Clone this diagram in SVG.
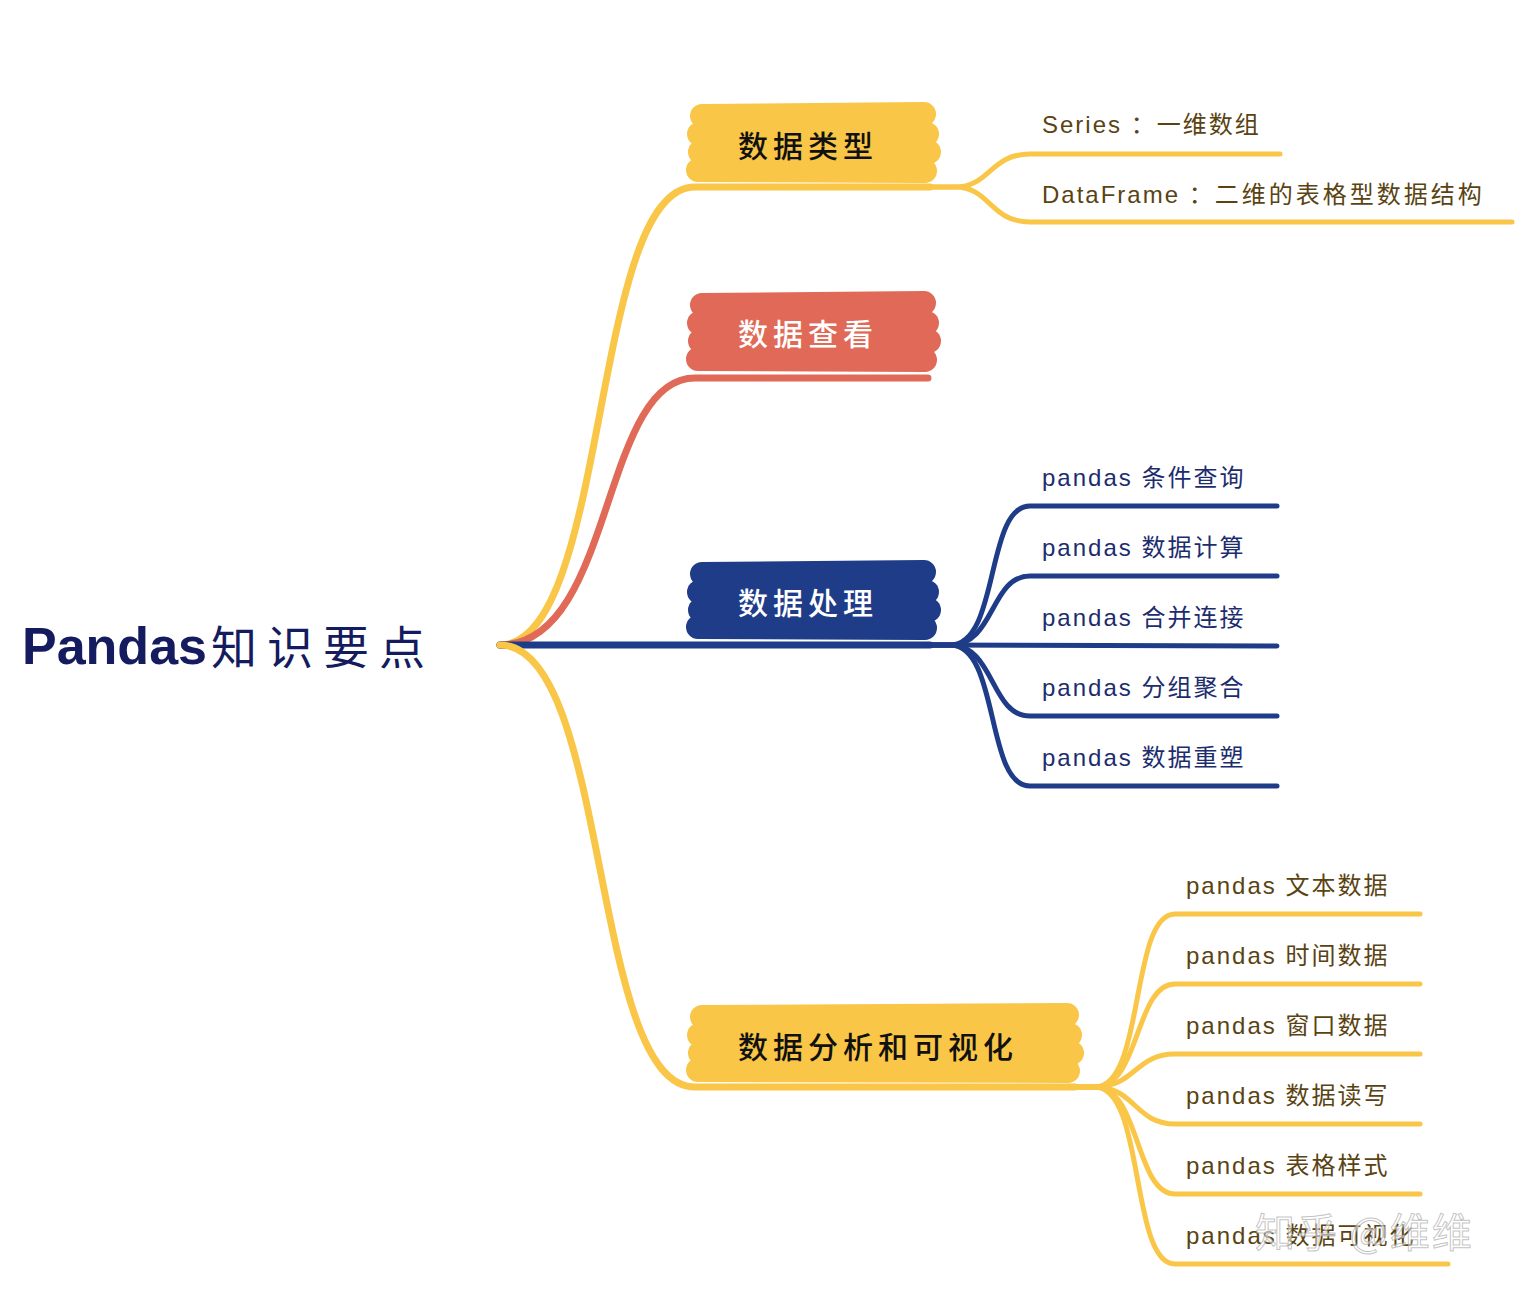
<svg xmlns="http://www.w3.org/2000/svg" width="1530" height="1294" viewBox="0 0 1530 1294">
<style>
.y{stroke:#F9C647;fill:none;stroke-linecap:round;stroke-linejoin:round}
.r{stroke:#E06A57;fill:none;stroke-linecap:round}
.b{stroke:#1F3C88;fill:none;stroke-linecap:round}
.main{stroke-width:7}
.sub{stroke-width:5}
.bx{stroke-width:24;stroke-linecap:round;fill:none}
.bt{font-family:"Noto Sans CJK SC","Noto Sans",sans-serif;font-size:30px;font-weight:500;letter-spacing:5px}
.lt{font-family:"Liberation Sans","Noto Sans CJK SC",sans-serif;font-size:24px;letter-spacing:2px}
.ly{fill:#5A4312}
.lb{fill:#1C2D6E}
</style>
<rect width="1530" height="1294" fill="#ffffff"/>
<g id="connectors">
  <path class="y main" d="M500,645 C610,645 590,187 695,187 L930,187"/>
  <path class="r main" d="M500,645 C615,645 600,378 695,378 L928,378"/>
  <path class="b main" d="M500,645 L930,645"/>
  <path class="y main" d="M500,645 C610,645 590,1087 695,1087 L1075,1087"/>
  <path class="y sub" d="M928,187 L955,187 C990,187 990,154 1030,154 L1280,154"/>
  <path class="y sub" d="M928,187 L955,187 C990,187 990,222 1030,222 L1512,222"/>
  <path class="b sub" d="M928,645 L950,645 C1000,645 985,506 1030,506 L1277,506"/>
  <path class="b sub" d="M928,645 L950,645 C995,645 990,576 1030,576 L1277,576"/>
  <path class="b sub" d="M928,645 L1277,646"/>
  <path class="b sub" d="M928,645 L950,645 C995,645 990,716 1030,716 L1277,716"/>
  <path class="b sub" d="M928,645 L950,645 C1000,645 985,786 1030,786 L1277,786"/>
  <path class="y sub" d="M1073,1087 L1095,1087 C1145,1087 1130,914 1175,914 L1420,914"/>
  <path class="y sub" d="M1073,1087 L1095,1087 C1140,1087 1135,984 1175,984 L1420,984"/>
  <path class="y sub" d="M1073,1087 L1095,1087 C1135,1087 1135,1054 1175,1054 L1420,1054"/>
  <path class="y sub" d="M1073,1087 L1095,1087 C1135,1087 1135,1124 1175,1124 L1420,1124"/>
  <path class="y sub" d="M1073,1087 L1095,1087 C1140,1087 1135,1194 1175,1194 L1420,1194"/>
  <path class="y sub" d="M1073,1087 L1095,1087 C1145,1087 1130,1264 1175,1264 L1448,1264"/>
</g>
<g id="root">
  <text x="22" y="664" font-family="'Liberation Sans','Noto Sans CJK SC',sans-serif" fill="#141B5E"><tspan font-size="52" font-weight="bold">Pandas</tspan><tspan font-family="'Noto Sans CJK SC',sans-serif" font-size="46" letter-spacing="10" dx="4">知识要点</tspan></text>
</g>
<g id="node-types">
  <g stroke="#F9C647" class="bx">
    <line x1="702" y1="116" x2="924" y2="114"/>
    <line x1="699" y1="134" x2="927" y2="134"/>
    <line x1="700" y1="152" x2="929" y2="152"/>
    <line x1="698" y1="170" x2="925" y2="171"/>
  </g>
  <text class="bt" x="738" y="157" fill="#111111">数据类型</text>
</g>
<g id="node-view">
  <g stroke="#E06A57" class="bx">
    <line x1="702" y1="305" x2="924" y2="303"/>
    <line x1="699" y1="323" x2="927" y2="323"/>
    <line x1="700" y1="341" x2="929" y2="341"/>
    <line x1="698" y1="359" x2="925" y2="360"/>
  </g>
  <text class="bt" x="738" y="345" fill="#ffffff">数据查看</text>
</g>
<g id="node-process">
  <g stroke="#1F3C88" class="bx">
    <line x1="702" y1="574" x2="924" y2="572"/>
    <line x1="699" y1="592" x2="927" y2="592"/>
    <line x1="700" y1="610" x2="929" y2="610"/>
    <line x1="698" y1="627" x2="925" y2="628"/>
  </g>
  <text class="bt" x="738" y="614" fill="#ffffff">数据处理</text>
</g>
<g id="node-analysis">
  <g stroke="#F9C647" class="bx">
    <line x1="702" y1="1017" x2="1067" y2="1015"/>
    <line x1="699" y1="1035" x2="1070" y2="1035"/>
    <line x1="700" y1="1053" x2="1072" y2="1053"/>
    <line x1="698" y1="1070" x2="1068" y2="1071"/>
  </g>
  <text class="bt" x="738" y="1058" fill="#111111">数据分析和可视化</text>
</g>
<g id="leaf-series"><text class="lt ly" x="1042" y="133">Series ：一维数组</text></g>
<g id="leaf-dataframe"><text class="lt ly" x="1042" y="203">DataFrame ：<tspan letter-spacing="3">二维的表格型数据结构</tspan></text></g>
<g id="leaf-p1"><text class="lt lb" x="1042" y="486">pandas 条件查询</text></g>
<g id="leaf-p2"><text class="lt lb" x="1042" y="556">pandas 数据计算</text></g>
<g id="leaf-p3"><text class="lt lb" x="1042" y="626">pandas 合并连接</text></g>
<g id="leaf-p4"><text class="lt lb" x="1042" y="696">pandas 分组聚合</text></g>
<g id="leaf-p5"><text class="lt lb" x="1042" y="766">pandas 数据重塑</text></g>
<g id="leaf-a1"><text class="lt ly" x="1186" y="894">pandas 文本数据</text></g>
<g id="leaf-a2"><text class="lt ly" x="1186" y="964">pandas 时间数据</text></g>
<g id="leaf-a3"><text class="lt ly" x="1186" y="1034">pandas 窗口数据</text></g>
<g id="leaf-a4"><text class="lt ly" x="1186" y="1104">pandas 数据读写</text></g>
<g id="leaf-a5"><text class="lt ly" x="1186" y="1174">pandas 表格样式</text></g>
<g id="leaf-a6"><text class="lt ly" x="1186" y="1244">pandas 数据可视化</text></g>
<text x="1255" y="1247" font-family="'Noto Sans CJK SC',sans-serif" font-size="40" letter-spacing="2" fill="#ffffff" fill-opacity="0.55" stroke="#9a9a9a" stroke-opacity="0.6" stroke-width="1">知乎 @维维</text>
</svg>
